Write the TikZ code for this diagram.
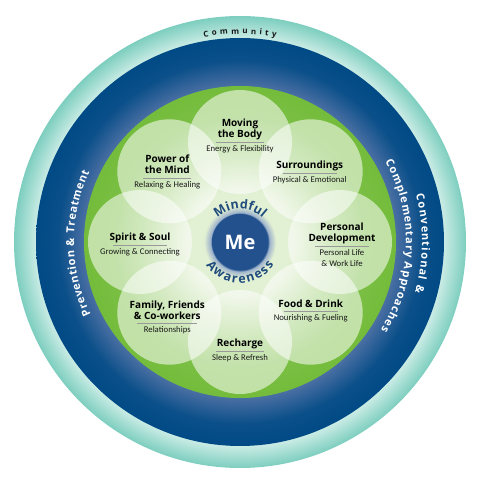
\documentclass[tikz,border=0pt]{standalone}
\usepackage{fontspec}
\setmainfont{Open Sans}
\newfontfamily\subfont{Carlito}
\usetikzlibrary{positioning,decorations.text}

\definecolor{tealedge}{HTML}{7DCEBF}
\definecolor{tealpale}{HTML}{C8EBE4}
\definecolor{bluedark}{HTML}{004A85}
\definecolor{bluelight}{HTML}{4A6FA3}
\definecolor{greenedge}{HTML}{74BC3B}
\definecolor{greenpale}{HTML}{E2F0D3}
\definecolor{meblue}{HTML}{22518D}
\definecolor{mindblue}{HTML}{1F4B7D}

% radial fills of the rings (the rim of a shaded circle sits at 25bp)
\pgfdeclareradialshading{tealring}{\pgfpoint{0bp}{0bp}}{color(0bp)=(tealpale); color(22.6bp)=(tealpale); color(25bp)=(tealedge); color(50bp)=(tealedge)}
\pgfdeclareradialshading{bluering}{\pgfpoint{0bp}{0bp}}{color(0bp)=(bluelight); color(19.1bp)=(bluelight); color(22.3bp)=(bluedark!85!bluelight); color(25bp)=(bluedark); color(50bp)=(bluedark)}
\pgfdeclareradialshading{greendisc}{\pgfpoint{0bp}{0bp}}{color(0bp)=(greenpale); color(8.5bp)=(greenpale); color(15bp)=(greenedge!60!greenpale); color(20bp)=(greenedge!95!white); color(25bp)=(greenedge); color(50bp)=(greenedge)}
\pgfdeclareradialshading{meglow}{\pgfpoint{0bp}{0bp}}{color(0bp)=(meblue); color(19.4bp)=(meblue); color(20.4bp)=(meblue!45!white); color(25bp)=(greenpale); color(50bp)=(greenpale)}

\newcommand\mindfont{\bfseries\fontsize{12.5}{12.5}\selectfont}
\newcommand\ringfont{\bfseries\fontsize{11}{11}\selectfont}
\newcommand\commfont{\bfseries\fontsize{8}{8}\selectfont}

\begin{document}
\begin{tikzpicture}[x=1pt,y=1pt,
    petal/.style={circle,fill=white,fill opacity=0.55,minimum size=104pt,inner sep=0pt}]
  % text styles inside the petals
  \tikzstyle{ptitle}=[font=\bfseries\fontsize{10}{11}\selectfont,align=center,inner sep=0pt,text depth=2.5pt,text=black]
  \tikzstyle{psub}=[font=\subfont\fontsize{8.7}{11.5}\selectfont,align=center,inner sep=0pt,text=black!90]
  \tikzstyle{prule}=[draw=black!40,line width=0.5pt]
  \tikzstyle{curved}=[decorate,decoration={text along path,text align=fit to path}]

  \useasboundingbox (0,0) rectangle (480,480);
  \coordinate (c) at (240,238);

  % rings
  \shade[shading=tealring] (c) circle (226pt);
  \shade[shading=bluering] (c) circle (204pt);
  \shade[shading=greendisc] (c) circle (156pt);

  % petals
  \node[petal] (p_mov) at ([shift={(90:100)}]c) {};
  \node[petal] (p_sur) at ([shift={(45:100)}]c) {};
  \node[petal] (p_dev) at ([shift={(0:100)}]c) {};
  \node[petal] (p_food) at ([shift={(-45:100)}]c) {};
  \node[petal] (p_rech) at ([shift={(-90:100)}]c) {};
  \node[petal] (p_fam) at ([shift={(-135:100)}]c) {};
  \node[petal] (p_spi) at ([shift={(180:100)}]c) {};
  \node[petal] (p_pow) at ([shift={(135:100)}]c) {};

  % petal texts
  \coordinate (r_mov) at ([shift={(0,0)}]p_mov.center);
  \node[ptitle, above=2pt of r_mov] (t_mov) {Moving\\the Body};
  \node[psub, below=3pt of r_mov] (s_mov) {Energy \& Flexibility};
  \draw[prule] ([xshift=-24]r_mov) -- ([xshift=24]r_mov);

  \coordinate (r_sur) at ([shift={(-1,-2)}]p_sur.center);
  \node[ptitle, above=2pt of r_sur] (t_sur) {Surroundings};
  \node[psub, below=3pt of r_sur] (s_sur) {Physical \& Emotional};
  \draw[prule] ([xshift=-27]r_sur) -- ([xshift=27]r_sur);

  \coordinate (r_dev) at ([shift={(2,-4)}]p_dev.center);
  \node[ptitle, above=2pt of r_dev] (t_dev) {Personal\\Development};
  \node[psub, below=3pt of r_dev] (s_dev) {Personal Life\\\& Work Life};
  \draw[prule] ([xshift=-27]r_dev) -- ([xshift=27]r_dev);

  \coordinate (r_food) at ([shift={(0,1)}]p_food.center);
  \node[ptitle, above=2pt of r_food] (t_food) {Food \& Drink};
  \node[psub, below=3pt of r_food] (s_food) {Nourishing \& Fueling};
  \draw[prule] ([xshift=-27]r_food) -- ([xshift=27]r_food);

  \coordinate (r_rech) at ([shift={(0,-9)}]p_rech.center);
  \node[ptitle, above=2pt of r_rech] (t_rech) {Recharge};
  \node[psub, below=3pt of r_rech] (s_rech) {Sleep \& Refresh};
  \draw[prule] ([xshift=-24]r_rech) -- ([xshift=24]r_rech);

  \coordinate (r_fam) at ([shift={(-2,-11)}]p_fam.center);
  \node[ptitle, above=2pt of r_fam] (t_fam) {Family, Friends\\\& Co-workers};
  \node[psub, below=3pt of r_fam] (s_fam) {Relationships};
  \draw[prule] ([xshift=-30]r_fam) -- ([xshift=30]r_fam);

  \coordinate (r_spi) at ([shift={(0,-3)}]p_spi.center);
  \node[ptitle, above=2pt of r_spi] (t_spi) {Spirit \& Soul};
  \node[psub, below=3pt of r_spi] (s_spi) {Growing \& Connecting};
  \draw[prule] ([xshift=-27]r_spi) -- ([xshift=27]r_spi);

  \coordinate (r_pow) at ([shift={(-2,-7)}]p_pow.center);
  \node[ptitle, above=2pt of r_pow] (t_pow) {Power of\\the Mind};
  \node[psub, below=3pt of r_pow] (s_pow) {Relaxing \& Healing};
  \draw[prule] ([xshift=-24]r_pow) -- ([xshift=24]r_pow);

  % centre
  \shade[shading=meglow] (c) circle (36pt);
  \node[circle, fill=meblue, minimum size=56pt, inner sep=0pt, text=white,
        font=\bfseries\fontsize{20}{20}\selectfont] (me) at (c) {Me};

  % curved labels
  \path[curved, decoration={text={|\mindfont|Mindful}, text color=mindblue}]
    (c) ++(133:33) arc[start angle=133, end angle=47, radius=33pt];
  \path[curved, decoration={text={|\mindfont|Awareness}, text color=mindblue}]
    (c) ++(214:41) arc[start angle=214, end angle=326, radius=41pt];
  \path[curved, decoration={text={|\commfont|Community}, text color=black!90}]
    (c) ++(100:208) arc[start angle=100, end angle=80, radius=208pt];
  \path[curved, decoration={text={|\ringfont|Prevention {\&} Treatment}, text color=white}]
    (c) ++(206:166) arc[start angle=206, end angle=155, radius=166pt];
  \path[curved, decoration={text={|\ringfont|Conventional {\&}}, text color=white}]
    (c) ++(15:182) arc[start angle=15, end angle=-16, radius=182pt];
  \path[curved, decoration={text={|\ringfont|Complementary Approaches}, text color=white}]
    (c) ++(29:166) arc[start angle=29, end angle=-32, radius=166pt];
\end{tikzpicture}
\end{document}
